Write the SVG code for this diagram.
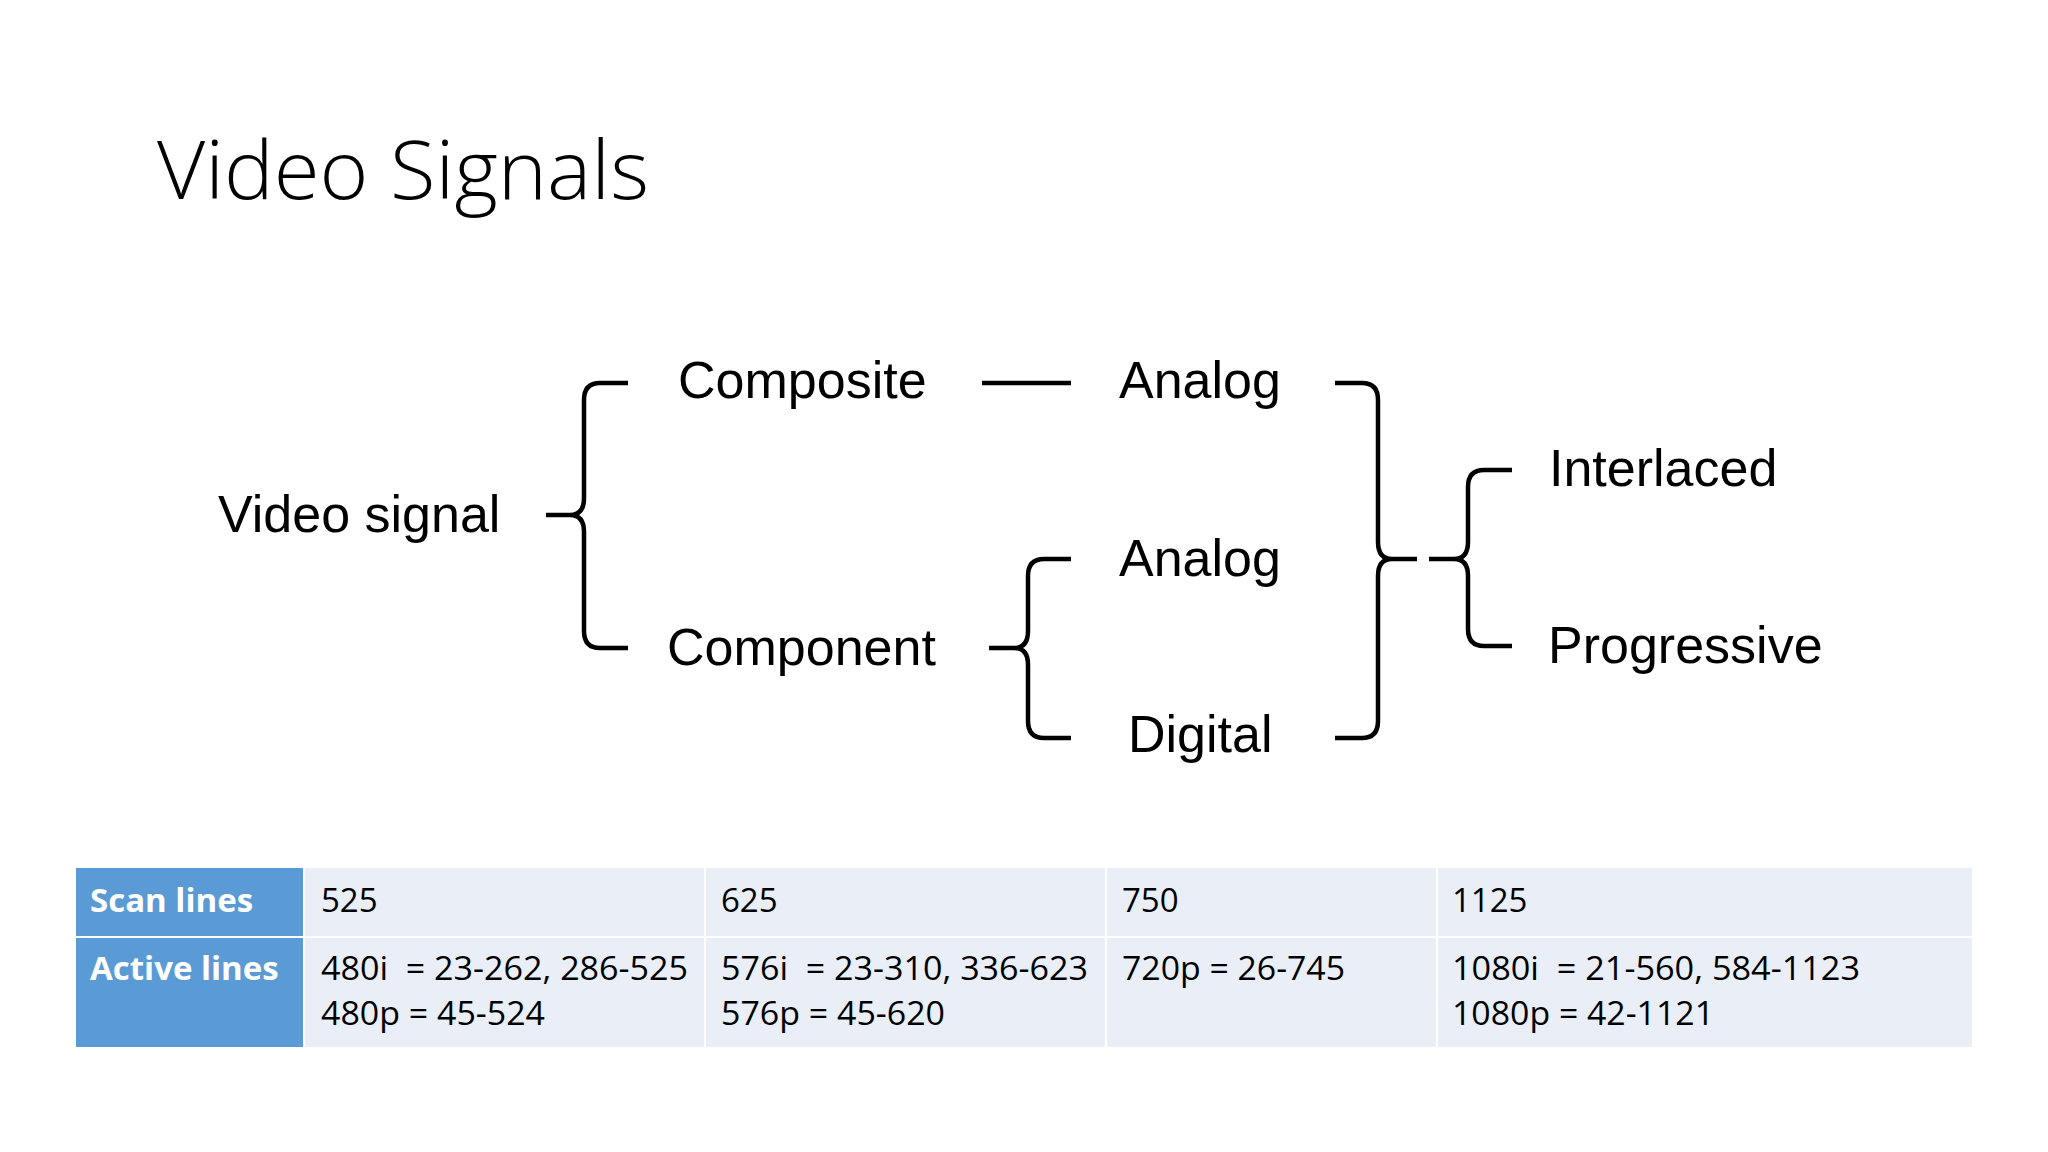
<svg xmlns="http://www.w3.org/2000/svg" width="2048" height="1152" viewBox="0 0 2048 1152">
<style>
.t{font-family:"Liberation Sans",Arial,sans-serif;font-size:52px;fill:#000}
.b{fill:none;stroke:#000;stroke-width:4.5}
.c{font-family:"Open Sans","Liberation Sans",sans-serif;font-size:33px;fill:#000}
.h{font-family:"Open Sans","Liberation Sans",sans-serif;font-size:33px;font-weight:bold;fill:#fff}
.hd{fill:#5b9bd5}.cl{fill:#e9eef7}
</style>
<rect width="2048" height="1152" fill="#fff"/>
<text x="157" y="199" font-family="'Open Sans','Liberation Sans',sans-serif" font-weight="300" font-size="82" textLength="492" lengthAdjust="spacingAndGlyphs">Video Signals</text>
<g id="n-video"><text class="t" x="218" y="532">Video signal</text></g>
<g id="n-composite"><text class="t" x="678" y="398">Composite</text></g>
<g id="n-analog1"><text class="t" x="1119" y="398">Analog</text></g>
<g id="n-component"><text class="t" x="667" y="665">Component</text></g>
<g id="n-analog2"><text class="t" x="1119" y="576">Analog</text></g>
<g id="n-digital"><text class="t" x="1128" y="752">Digital</text></g>
<g id="n-interlaced"><text class="t" x="1549" y="486">Interlaced</text></g>
<g id="n-progressive"><text class="t" x="1548" y="663">Progressive</text></g>
<g id="connectors">
<path class="b" d="M628 383 H600 Q584 383 584 400 V498 Q584 515 570 515 H546 M570 515 Q584 515 584 532 V631 Q584 648 600 648 H628"/>
<path class="b" d="M982 383 H1071"/>
<path class="b" d="M1071 559 H1044 Q1028 559 1028 576 V631 Q1028 648 1014 648 H989 M1014 648 Q1028 648 1028 665 V721 Q1028 738 1044 738 H1071"/>
<path class="b" d="M1335 383 H1362 Q1378 383 1378 400 V542 Q1378 559 1392 559 H1417 M1392 559 Q1378 559 1378 576 V721 Q1378 738 1362 738 H1335"/>
<path class="b" d="M1512 470 H1484 Q1468 470 1468 487 V542 Q1468 559 1454 559 H1429 M1454 559 Q1468 559 1468 576 V629 Q1468 646 1484 646 H1512"/>
</g>
<g id="table">
<rect class="hd" x="76" y="868" width="227" height="68"/>
<rect class="hd" x="76" y="938" width="227" height="109"/>
<rect class="cl" x="305" y="868" width="399" height="68"/>
<rect class="cl" x="706" y="868" width="399" height="68"/>
<rect class="cl" x="1107" y="868" width="329" height="68"/>
<rect class="cl" x="1438" y="868" width="534" height="68"/>
<rect class="cl" x="305" y="938" width="399" height="109"/>
<rect class="cl" x="706" y="938" width="399" height="109"/>
<rect class="cl" x="1107" y="938" width="329" height="109"/>
<rect class="cl" x="1438" y="938" width="534" height="109"/>
<text class="h" x="90" y="912">Scan lines</text>
<text class="h" x="90" y="980">Active lines</text>
<text class="c" x="321" y="912">525</text>
<text class="c" x="721" y="912">625</text>
<text class="c" x="1122" y="912">750</text>
<text class="c" x="1452" y="912">1125</text>
<text class="c" x="321" y="980" textLength="367" lengthAdjust="spacingAndGlyphs" xml:space="preserve">480i  = 23-262, 286-525</text>
<text class="c" x="321" y="1025" textLength="224" lengthAdjust="spacingAndGlyphs">480p = 45-524</text>
<text class="c" x="721" y="980" textLength="367" lengthAdjust="spacingAndGlyphs" xml:space="preserve">576i  = 23-310, 336-623</text>
<text class="c" x="721" y="1025" textLength="224" lengthAdjust="spacingAndGlyphs">576p = 45-620</text>
<text class="c" x="1122" y="980" textLength="223" lengthAdjust="spacingAndGlyphs">720p = 26-745</text>
<text class="c" x="1452" y="980" textLength="408" lengthAdjust="spacingAndGlyphs" xml:space="preserve">1080i  = 21-560, 584-1123</text>
<text class="c" x="1452" y="1025" textLength="262" lengthAdjust="spacingAndGlyphs">1080p = 42-1121</text>
</g>
</svg>
